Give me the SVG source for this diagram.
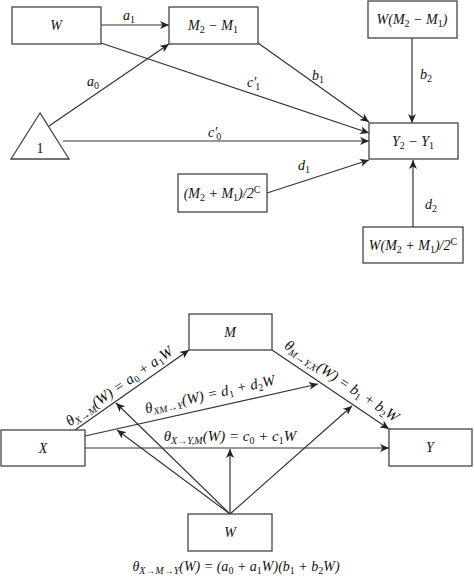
<svg xmlns="http://www.w3.org/2000/svg" width="474" height="577" viewBox="0 0 474 577">
<style>
.box{fill:#fff;stroke:#444;stroke-width:1.3}
.ln{stroke:#333;stroke-width:1.2;fill:none}
.ar{marker-end:url(#ah)}
text{font-family:"Liberation Serif","DejaVu Serif",serif;font-size:14px;fill:#111}
.i{font-style:italic}
.c{text-anchor:middle}
.s{font-size:10px}
.n{font-style:normal}
.f{font-size:15px}
</style>
<defs>
<marker id="ah" markerUnits="userSpaceOnUse" markerWidth="9" markerHeight="8" refX="9" refY="4" orient="auto">
<path d="M0,0 L9,4 L0,8 L2.5,4 z" fill="#222"/>
</marker>
</defs>
<g id="connectors">
<line class="ln ar" x1="101" y1="25" x2="169" y2="25"/>
<line class="ln ar" x1="49" y1="126" x2="169" y2="44"/>
<line class="ln ar" x1="101" y1="43" x2="369" y2="133"/>
<line class="ln ar" x1="63" y1="141" x2="369" y2="141"/>
<line class="ln ar" x1="258" y1="43" x2="369" y2="122"/>
<line class="ln ar" x1="412" y1="38" x2="412" y2="123"/>
<line class="ln ar" x1="267" y1="193" x2="369" y2="160"/>
<line class="ln ar" x1="413" y1="227" x2="413" y2="160"/>
<line class="ln ar" x1="75" y1="430" x2="189" y2="350"/>
<line class="ln ar" x1="85" y1="436" x2="318" y2="384"/>
<line class="ln ar" x1="272" y1="350" x2="389" y2="429"/>
<line class="ln ar" x1="85" y1="448" x2="389" y2="448"/>
<line class="ln ar" x1="230" y1="514" x2="116" y2="403"/>
<line class="ln ar" x1="230" y1="514" x2="117" y2="430"/>
<line class="ln ar" x1="230" y1="514" x2="230" y2="449"/>
<line class="ln ar" x1="230" y1="514" x2="352" y2="406"/>
</g>
<g id="labels">
<text class="i" x="123" y="20">a<tspan class="s n" dy="3">1</tspan></text>
<text class="i" x="87" y="86">a<tspan class="s n" dy="3">0</tspan></text>
<text class="i" x="208" y="137">c′<tspan class="s n" dx="-1" dy="3">0</tspan></text>
<text class="i" x="247" y="87">c′<tspan class="s n" dx="-1" dy="3">1</tspan></text>
<text class="i" x="312" y="80">b<tspan class="s n" dy="3">1</tspan></text>
<text class="i" x="420" y="79">b<tspan class="s n" dy="3">2</tspan></text>
<text class="i" x="298" y="170">d<tspan class="s n" dy="3">1</tspan></text>
<text class="i" x="425" y="209">d<tspan class="s n" dy="3">2</tspan></text>
<text class="i c f" transform="translate(122,390) rotate(-35)">θ<tspan class="s" dy="3">X→M</tspan><tspan dy="-3">(W) = a</tspan><tspan class="s n" dy="3">0</tspan><tspan dy="-3"> + a</tspan><tspan class="s n" dy="3">1</tspan><tspan dy="-3">W</tspan></text>
<text class="i c f" transform="translate(211,399) rotate(-12.6)">θ<tspan class="s" dy="3">XM→Y</tspan><tspan dy="-3">(W) = d</tspan><tspan class="s n" dy="3">1</tspan><tspan dy="-3"> + d</tspan><tspan class="s n" dy="3">2</tspan><tspan dy="-3">W</tspan></text>
<text class="i c f" x="230" y="441">θ<tspan class="s" dy="3">X→Y,M</tspan><tspan dy="-3">(W) = c</tspan><tspan class="s n" dy="3">0</tspan><tspan dy="-3"> + c</tspan><tspan class="s n" dy="3">1</tspan><tspan dy="-3">W</tspan></text>
<text class="i c f" transform="translate(339,385) rotate(34)">θ<tspan class="s" dy="3">M→Y,X</tspan><tspan dy="-3">(W) = b</tspan><tspan class="s n" dy="3">1</tspan><tspan dy="-3"> + b</tspan><tspan class="s n" dy="3">2</tspan><tspan dy="-3">W</tspan></text>
<text class="i c" font-size="16" x="236" y="571">θ<tspan class="s" dy="3">X→M→Y</tspan><tspan dy="-3">(W) = (a</tspan><tspan class="s n" dy="3">0</tspan><tspan dy="-3"> + a</tspan><tspan class="s n" dy="3">1</tspan><tspan dy="-3">W)(b</tspan><tspan class="s n" dy="3">1</tspan><tspan dy="-3"> + b</tspan><tspan class="s n" dy="3">2</tspan><tspan dy="-3">W)</tspan></text>
</g>
<g id="nodeW1"><rect class="box" x="12" y="7" width="89" height="37"/><text class="i c" x="56" y="30">W</text></g>
<g id="nodeM"><rect class="box" x="169" y="7" width="89" height="37"/><text class="i c" x="213" y="30">M<tspan class="s n" dy="3">2</tspan><tspan dy="-3"> − M</tspan><tspan class="s n" dy="3">1</tspan></text></g>
<g id="nodeWM"><rect class="box" x="368" y="1" width="89" height="37"/><text class="i c" x="412" y="24">W(M<tspan class="s n" dy="3">2</tspan><tspan dy="-3"> − M</tspan><tspan class="s n" dy="3">1</tspan><tspan dy="-3">)</tspan></text></g>
<g id="nodeY"><rect class="box" x="369" y="123" width="89" height="36"/><text class="i c" x="413" y="146">Y<tspan class="s n" dy="3">2</tspan><tspan dy="-3"> − Y</tspan><tspan class="s n" dy="3">1</tspan></text></g>
<g id="nodeOne"><polygon class="box" points="40,113 11,159 69,159"/><text class="c" x="40" y="153">1</text></g>
<g id="nodeMS"><rect class="box" x="178" y="174" width="89" height="38"/><text class="i c" x="222" y="198">(M<tspan class="s n" dy="3">2</tspan><tspan dy="-3"> + M</tspan><tspan class="s n" dy="3">1</tspan><tspan dy="-3">)/2</tspan><tspan class="s n" dy="-5">C</tspan></text></g>
<g id="nodeWMS"><rect class="box" x="363" y="227" width="100" height="36"/><text class="i c" x="413" y="250">W(M<tspan class="s n" dy="3">2</tspan><tspan dy="-3"> + M</tspan><tspan class="s n" dy="3">1</tspan><tspan dy="-3">)/2</tspan><tspan class="s n" dy="-5">C</tspan></text></g>
<g id="nodeM2"><rect class="box" x="189" y="314" width="83" height="36"/><text class="i c" x="230" y="337">M</text></g>
<g id="nodeX"><rect class="box" x="1" y="430" width="84" height="36"/><text class="i c" x="43" y="453">X</text></g>
<g id="nodeY2"><rect class="box" x="389" y="429" width="83" height="37"/><text class="i c" x="430" y="452">Y</text></g>
<g id="nodeW2"><rect class="box" x="188" y="514" width="84" height="37"/><text class="i c" x="230" y="537">W</text></g>
</svg>
